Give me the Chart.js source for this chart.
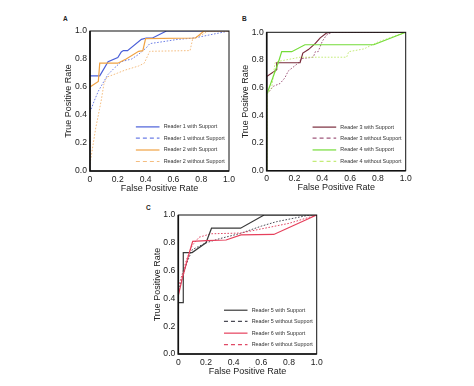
<!DOCTYPE html>
<html>
<head>
<meta charset="utf-8">
<script src="https://cdn.jsdelivr.net/npm/chart.js@4/dist/chart.umd.min.js"></script>
<style>
  html, body { margin:0; padding:0; background:#fff; }
  body { width:474px; height:386px; position:relative; overflow:hidden; font-family:"Liberation Sans", Arial, sans-serif; }
  canvas { position:absolute; }
  .plabel { position:absolute; font-weight:bold; font-size:6.5px; color:#222; line-height:1; }
</style>
</head>
<body>
<div class="plabel" style="left:63px;top:16px;">A</div>
<div class="plabel" style="left:242px;top:16px;">B</div>
<div class="plabel" style="left:146px;top:205px;">C</div>
<canvas id="cA"></canvas>
<canvas id="cB"></canvas>
<canvas id="cC"></canvas>
<script>
// ---------- tick labels ----------
const xTickLabels = ['0', '0.2', '0.4', '0.6', '0.8', '1.0'];
const yTickLabels = ['0.0', '0.2', '0.4', '0.6', '0.8', '1.0'];
const xTitle = 'False Positive Rate';
const yTitle = 'True Positive Rate';

// ---------- Panel A ----------
const panelALabels = ['Reader 1 with Support', 'Reader 1 without Support', 'Reader 2 with Support', 'Reader 2 without Support'];
const r1WithFpr = [0, 0.07, 0.13, 0.2, 0.225, 0.24, 0.27, 0.37, 0.405, 0.45, 0.55, 1];
const r1WithTpr = [0.68, 0.68, 0.78, 0.81, 0.85, 0.86, 0.86, 0.94, 0.95, 0.95, 1, 1];
const r1WithoutFpr = [0, 0.03, 0.06, 0.1, 0.13, 0.18, 0.225, 0.26, 0.3, 0.345, 0.405, 0.43, 0.5, 0.63, 0.75, 0.85, 1];
const r1WithoutTpr = [0.42, 0.5, 0.57, 0.64, 0.69, 0.74, 0.78, 0.79, 0.8, 0.83, 0.88, 0.91, 0.92, 0.94, 0.95, 0.97, 1];
const r2WithFpr = [0, 0.06, 0.07, 0.2, 0.26, 0.35, 0.38, 0.4, 0.76, 0.82, 1];
const r2WithTpr = [0.6, 0.64, 0.77, 0.77, 0.8, 0.855, 0.86, 0.945, 0.95, 1, 1];
const r2WithoutFpr = [0, 0.04, 0.08, 0.1, 0.12, 0.2, 0.25, 0.35, 0.39, 0.43, 0.72, 0.74, 0.8, 0.85, 1];
const r2WithoutTpr = [0.05, 0.3, 0.5, 0.62, 0.67, 0.7, 0.72, 0.75, 0.77, 0.855, 0.86, 0.95, 0.97, 1, 1];

// ---------- Panel B ----------
const panelBLabels = ['Reader 3 with Support', 'Reader 3 without Support', 'Reader 4 with Support', 'Reader 4 without Support'];
const r3WithFpr = [0, 0, 0.072, 0.072, 0.24, 0.26, 0.3, 0.35, 0.385, 0.43, 0.46, 1];
const r3WithTpr = [0, 0.68, 0.73, 0.78, 0.78, 0.85, 0.875, 0.92, 0.96, 0.995, 1, 1];
const r3WithoutFpr = [0, 0, 0.048, 0.096, 0.13, 0.155, 0.23, 0.25, 0.335, 0.35, 0.37, 0.4, 0.43, 0.47, 1];
const r3WithoutTpr = [0, 0.55, 0.61, 0.63, 0.67, 0.72, 0.78, 0.81, 0.82, 0.86, 0.86, 0.935, 0.98, 1, 1];
const r4WithFpr = [0, 0, 0.083, 0.108, 0.18, 0.275, 0.77, 1];
const r4WithTpr = [0, 0.55, 0.78, 0.86, 0.86, 0.91, 0.91, 1];
const r4WithoutFpr = [0, 0, 0.036, 0.06, 0.084, 0.24, 0.575, 0.59, 0.7, 0.8, 1];
const r4WithoutTpr = [0, 0.55, 0.6, 0.78, 0.79, 0.82, 0.82, 0.86, 0.88, 0.93, 1];

// ---------- Panel C ----------
const panelCLabels = ['Reader 5 with Support', 'Reader 5 without Support', 'Reader 6 with Support', 'Reader 6 without Support'];
const r5WithFpr = [0, 0, 0.036, 0.036, 0.1, 0.2, 0.24, 0.45, 0.62, 1];
const r5WithTpr = [0, 0.37, 0.37, 0.73, 0.73, 0.8, 0.905, 0.905, 1, 1];
const r5WithoutFpr = [0, 0, 0.03, 0.06, 0.1, 0.2, 0.3, 0.45, 0.6, 0.71, 0.85, 0.95, 1];
const r5WithoutTpr = [0, 0.45, 0.55, 0.65, 0.75, 0.8, 0.83, 0.868, 0.92, 0.952, 0.98, 1, 1];
const r6WithFpr = [0, 0, 0.03, 0.055, 0.08, 0.104, 0.2, 0.345, 0.453, 0.69, 1];
const r6WithTpr = [0, 0.42, 0.55, 0.64, 0.73, 0.81, 0.815, 0.82, 0.857, 0.86, 1];
const r6WithoutFpr = [0, 0, 0.03, 0.06, 0.1, 0.15, 0.236, 0.45, 0.6, 0.8, 1];
const r6WithoutTpr = [0, 0.48, 0.58, 0.68, 0.78, 0.84, 0.865, 0.87, 0.9, 0.94, 1];

// ---------- helpers ----------
const FONT = '"Liberation Sans", Arial, Helvetica, sans-serif';
function pts(xs, ys) { return xs.map((x, i) => ({ x: x, y: ys[i] })); }
function ds(label, xs, ys, color, dotted, order) {
  return {
    label: label,
    data: pts(xs, ys),
    borderColor: color,
    backgroundColor: color,
    borderWidth: dotted ? 1 : 1.2,
    borderDash: dotted ? [1.6, 1.6] : [],
    legendDash: dotted ? [4, 3] : [],
    pointRadius: 0,
    tension: 0,
    fill: false,
    order: order
  };
}

const framePlugin = {
  id: 'frameLegend',
  afterDatasetsDraw(chart) {
    const { ctx, chartArea: a } = chart;
    ctx.save();
    ctx.strokeStyle = '#111';
    ctx.lineWidth = 1;
    ctx.strokeRect(a.left, a.top, a.right - a.left, a.bottom - a.top);
    ctx.lineWidth = 1.6;
    ctx.beginPath();
    ctx.moveTo(a.left, a.top);
    ctx.lineTo(a.left, a.bottom);
    ctx.lineTo(a.right, a.bottom);
    ctx.stroke();
    // legend
    const w = a.right - a.left, h = a.bottom - a.top;
    const rows = [0.685, 0.765, 0.85, 0.932];
    ctx.font = '5.4px ' + FONT;
    ctx.textBaseline = 'middle';
    ctx.textAlign = 'left';
    chart.data.datasets.forEach((d, i) => {
      const y = a.top + rows[i] * h;
      ctx.strokeStyle = d.borderColor;
      ctx.lineWidth = 1.2;
      ctx.setLineDash(d.legendDash);
      ctx.beginPath();
      ctx.moveTo(a.left + 0.33 * w, y);
      ctx.lineTo(a.left + 0.50 * w, y);
      ctx.stroke();
      ctx.setLineDash([]);
      ctx.fillStyle = '#333';
      ctx.fillText(d.label, a.left + 0.53 * w, y);
    });
    ctx.restore();
  }
};

function makePanel(id, canvasBox, area, datasets) {
  const cv = document.getElementById(id);
  cv.style.left = canvasBox.left + 'px';
  cv.style.top = canvasBox.top + 'px';
  cv.style.width = canvasBox.width + 'px';
  cv.style.height = canvasBox.height + 'px';
  cv.width = canvasBox.width;
  cv.height = canvasBox.height;
  const yW = 26.4, xH = 22.5;
  const pad = {
    left: (area.x0 - yW) - canvasBox.left,
    top: area.y0 - canvasBox.top,
    right: (canvasBox.left + canvasBox.width) - area.x1,
    bottom: (canvasBox.top + canvasBox.height) - (area.y1 + xH)
  };
  return new Chart(cv, {
    type: 'line',
    data: { datasets: datasets },
    plugins: [framePlugin],
    options: {
      responsive: false,
      animation: false,
      devicePixelRatio: 1,
      layout: { padding: pad },
      plugins: { legend: { display: false }, tooltip: { enabled: false } },
      scales: {
        x: {
          type: 'linear', min: 0, max: 1,
          afterFit: s => { s.height = xH; },
          grid: { display: false, drawTicks: false },
          border: { display: false },
          ticks: {
            stepSize: 0.2, padding: 3, color: '#222', maxRotation: 0,
            font: { family: FONT, size: 8.6 },
            callback: (v, i) => xTickLabels[i]
          },
          title: { display: true, text: xTitle, color: '#222', padding: 0, font: { family: FONT, size: 9 } }
        },
        y: {
          type: 'linear', min: 0, max: 1,
          afterFit: s => { s.width = yW; },
          grid: { display: false, drawTicks: false },
          border: { display: false },
          ticks: {
            stepSize: 0.2, padding: 3, color: '#222',
            font: { family: FONT, size: 8.6 },
            callback: (v, i) => yTickLabels[i]
          },
          title: { display: true, text: yTitle, color: '#222', padding: 0, font: { family: FONT, size: 9 } }
        }
      }
    }
  });
}

makePanel('cA', { left: 40, top: 0, width: 210, height: 200 }, { x0: 90, y0: 31, x1: 229, y1: 171 }, [
  ds(panelALabels[0], r1WithFpr, r1WithTpr, '#4a5fd8', false, 1),
  ds(panelALabels[1], r1WithoutFpr, r1WithoutTpr, '#6d7fe6', true, 2),
  ds(panelALabels[2], r2WithFpr, r2WithTpr, '#f0a243', false, 0),
  ds(panelALabels[3], r2WithoutFpr, r2WithoutTpr, '#f4bd80', true, 3)
]);
makePanel('cB', { left: 220, top: 0, width: 210, height: 200 }, { x0: 266.7, y0: 32.3, x1: 405.7, y1: 170.7 }, [
  ds(panelBLabels[0], r3WithFpr, r3WithTpr, '#7a2c3c', false, 2),
  ds(panelBLabels[1], r3WithoutFpr, r3WithoutTpr, '#a0587c', true, 3),
  ds(panelBLabels[2], r4WithFpr, r4WithTpr, '#74dc38', false, 0),
  ds(panelBLabels[3], r4WithoutFpr, r4WithoutTpr, '#c4ec78', true, 1)
]);
makePanel('cC', { left: 130, top: 190, width: 210, height: 196 }, { x0: 178.3, y0: 215, x1: 316.7, y1: 354 }, [
  ds(panelCLabels[0], r5WithFpr, r5WithTpr, '#3a3a3a', false, 1),
  ds(panelCLabels[1], r5WithoutFpr, r5WithoutTpr, '#4a4a55', true, 3),
  ds(panelCLabels[2], r6WithFpr, r6WithTpr, '#e6405c', false, 0),
  ds(panelCLabels[3], r6WithoutFpr, r6WithoutTpr, '#e04a66', true, 2)
]);
</script>
</body>
</html>
